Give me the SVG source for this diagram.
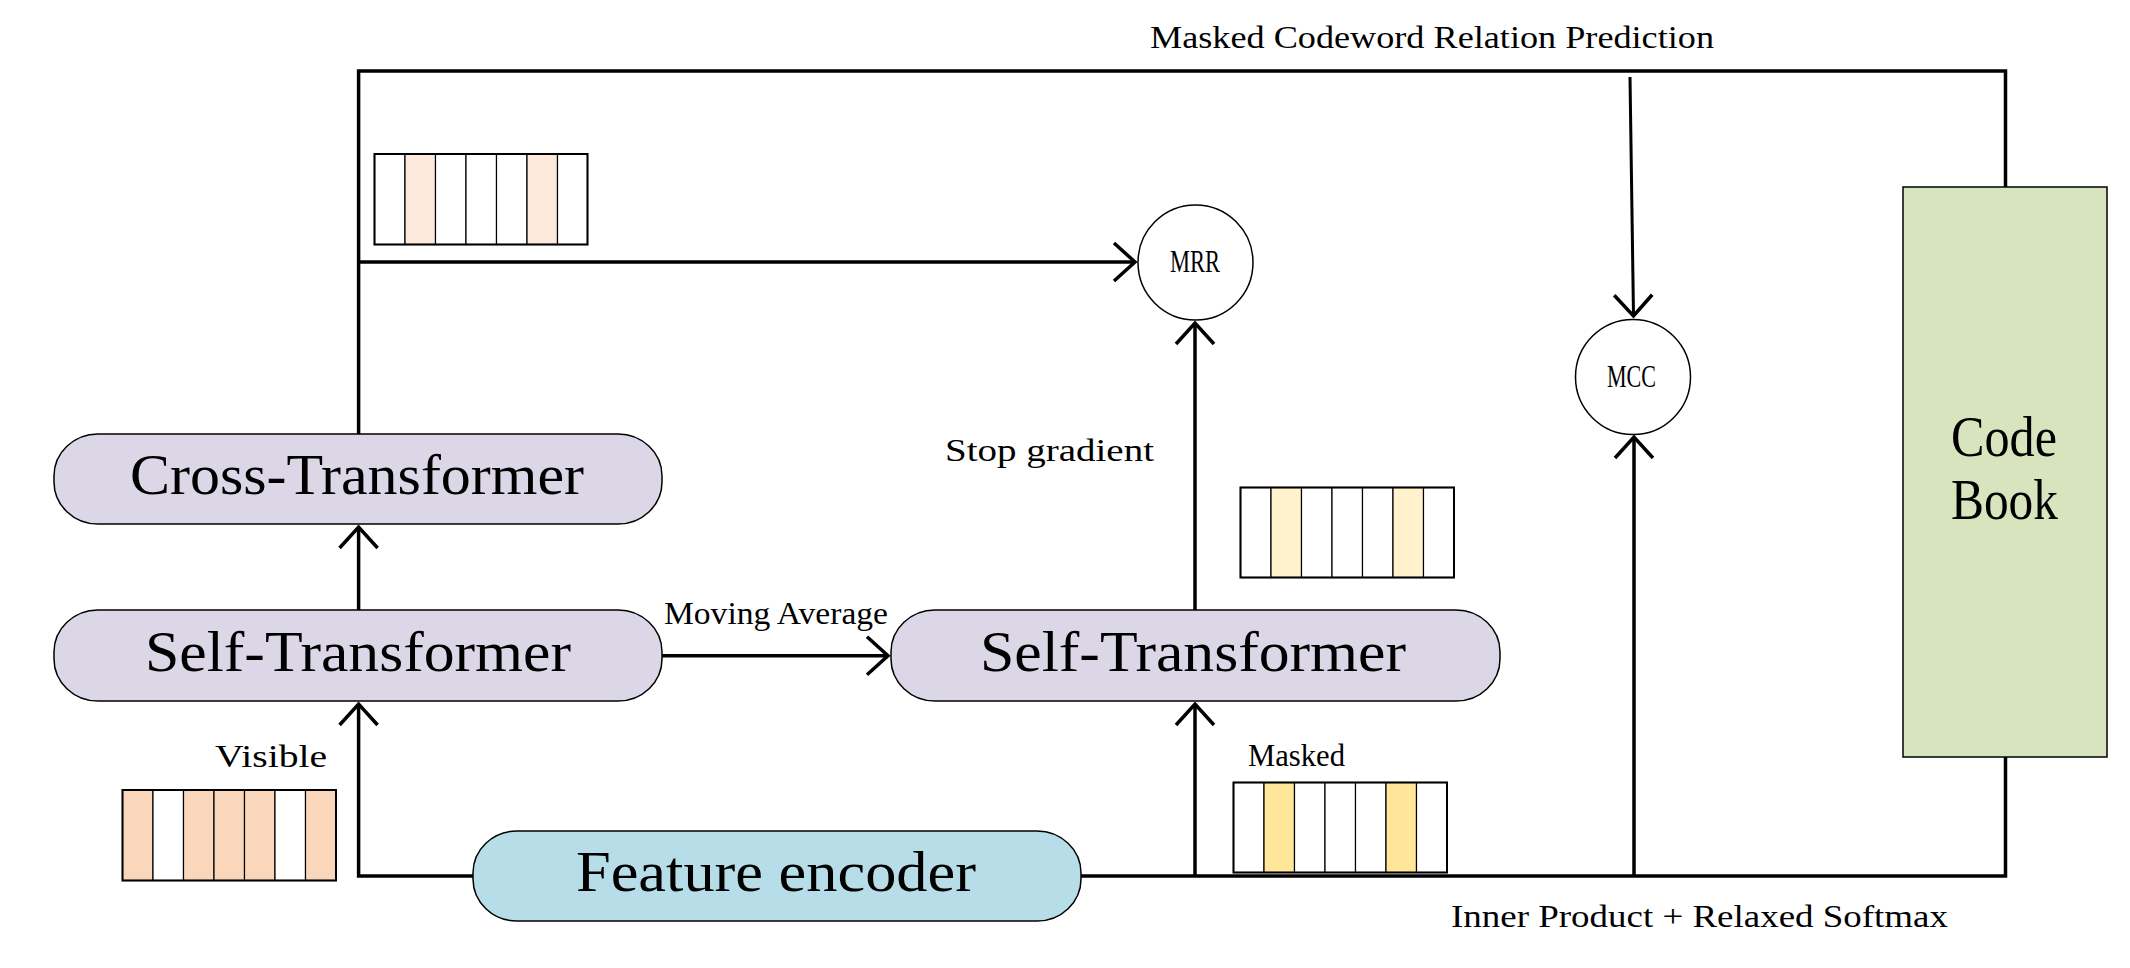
<svg xmlns="http://www.w3.org/2000/svg" width="2130" height="968" viewBox="0 0 2130 968">
<style>
  .txt { font-family: "Liberation Serif", "DejaVu Serif", serif; fill: #000; }
  .sm { font-size: 31px; }
  .lg { font-size: 56px; }
  .conn { fill: none; stroke: #000; stroke-width: 3.5; }
  .thin { fill: none; stroke: #000; stroke-width: 3; }
  .node { stroke: #000; stroke-width: 1.5; }
  .purple { fill: #dcd7e6; }
  .blue { fill: #b7dee8; }
  .green { fill: #d7e4bd; }
  .cell { stroke: #000; stroke-width: 1.2; fill: #fff; }
  .frame { fill: none; stroke: #000; stroke-width: 2; }
  .c1 { fill: #fce9dc; }
  .c2 { fill: #fff2cc; }
  .c3 { fill: #fad7bb; }
  .c4 { fill: #ffe699; }
</style>
<defs>
  <marker id="arr" markerUnits="userSpaceOnUse" viewBox="-26 -24 30 48" refX="0" refY="0" markerWidth="30" markerHeight="48" orient="auto">
    <path d="M-21,-19 L0,0 L-21,19" fill="none" stroke="#000" stroke-width="3.5" stroke-linejoin="miter"/>
  </marker>
</defs>
<rect width="2130" height="968" fill="#fff"/>

<g id="connectors">
  <path class="conn" d="M473,876 H358.6 V704" marker-end="url(#arr)"/>
  <path class="conn" d="M358.6,610 V527" marker-end="url(#arr)"/>
  <path class="conn" d="M358.6,434 V71 H2005.5 V187"/>
  <path class="conn" d="M358.6,262 H1135" marker-end="url(#arr)"/>
  <path class="conn" d="M662,655.7 H888" marker-end="url(#arr)"/>
  <path class="conn" d="M1081,876 H2005.5 V757"/>
  <path class="conn" d="M1195,876 V704" marker-end="url(#arr)"/>
  <path class="conn" d="M1195,610 V323" marker-end="url(#arr)"/>
  <path class="conn" d="M1634,876 V437" marker-end="url(#arr)"/>
  <path class="thin" d="M1630,77 L1633.5,316" marker-end="url(#arr)"/>
</g>

<g id="cross-transformer">
  <rect class="node purple" x="54" y="434" width="608" height="90" rx="44" ry="42"/>
  <text class="txt lg" x="130" y="494" textLength="454" lengthAdjust="spacingAndGlyphs">Cross-Transformer</text>
</g>

<g id="self-transformer-left">
  <rect class="node purple" x="54" y="610" width="608" height="91" rx="44" ry="42"/>
  <text class="txt lg" x="145" y="671" textLength="426" lengthAdjust="spacingAndGlyphs">Self-Transformer</text>
</g>

<g id="self-transformer-right">
  <rect class="node purple" x="891" y="610" width="609" height="91" rx="44" ry="42"/>
  <text class="txt lg" x="980" y="671" textLength="426" lengthAdjust="spacingAndGlyphs">Self-Transformer</text>
</g>

<g id="feature-encoder">
  <rect class="node blue" x="473" y="831" width="608" height="90" rx="44" ry="42"/>
  <text class="txt lg" x="576" y="891" textLength="400" lengthAdjust="spacingAndGlyphs">Feature encoder</text>
</g>

<g id="mrr">
  <circle class="node" cx="1195.5" cy="262.5" r="57.5" fill="#fff" stroke-width="1.3"/>
  <text class="txt sm" x="1170" y="272" textLength="50" lengthAdjust="spacingAndGlyphs">MRR</text>
</g>

<g id="mcc">
  <circle class="node" cx="1633" cy="377" r="57.5" fill="#fff" stroke-width="1.3"/>
  <text class="txt sm" x="1607" y="387" textLength="49" lengthAdjust="spacingAndGlyphs">MCC</text>
</g>

<g id="codebook">
  <rect class="node green" x="1903" y="187" width="204" height="570"/>
  <text class="txt lg" x="1951" y="456" textLength="106" lengthAdjust="spacingAndGlyphs">Code</text>
  <text class="txt lg" x="1951" y="519" textLength="107" lengthAdjust="spacingAndGlyphs">Book</text>
</g>

<g id="tokens-cross">
  <rect class="cell" x="374.5" y="154" width="30.5" height="90.5"/>
  <rect class="cell c1" x="405" y="154" width="30.5" height="90.5"/>
  <rect class="cell" x="435.5" y="154" width="30.5" height="90.5"/>
  <rect class="cell" x="466" y="154" width="30.5" height="90.5"/>
  <rect class="cell" x="496.5" y="154" width="30.5" height="90.5"/>
  <rect class="cell c1" x="527" y="154" width="30.5" height="90.5"/>
  <rect class="cell" x="557.5" y="154" width="30" height="90.5"/>
  <rect class="frame" x="374.5" y="154" width="213" height="90.5"/>
</g>

<g id="tokens-target">
  <rect class="cell" x="1240.5" y="487.5" width="30.5" height="90"/>
  <rect class="cell c2" x="1271" y="487.5" width="30.5" height="90"/>
  <rect class="cell" x="1301.5" y="487.5" width="30.5" height="90"/>
  <rect class="cell" x="1332" y="487.5" width="30.5" height="90"/>
  <rect class="cell" x="1362.5" y="487.5" width="30.5" height="90"/>
  <rect class="cell c2" x="1393" y="487.5" width="30.5" height="90"/>
  <rect class="cell" x="1423.5" y="487.5" width="30.5" height="90"/>
  <rect class="frame" x="1240.5" y="487.5" width="213.5" height="90"/>
</g>

<g id="tokens-visible">
  <rect class="cell c3" x="122.5" y="790" width="30.5" height="90.5"/>
  <rect class="cell" x="153" y="790" width="30.5" height="90.5"/>
  <rect class="cell c3" x="183.5" y="790" width="30.5" height="90.5"/>
  <rect class="cell c3" x="214" y="790" width="30.5" height="90.5"/>
  <rect class="cell c3" x="244.5" y="790" width="30.5" height="90.5"/>
  <rect class="cell" x="275" y="790" width="30.5" height="90.5"/>
  <rect class="cell c3" x="305.5" y="790" width="30.5" height="90.5"/>
  <rect class="frame" x="122.5" y="790" width="213.5" height="90.5"/>
</g>

<g id="tokens-masked">
  <rect class="cell" x="1233.5" y="782.5" width="30.5" height="90"/>
  <rect class="cell c4" x="1264" y="782.5" width="30.5" height="90"/>
  <rect class="cell" x="1294.5" y="782.5" width="30.5" height="90"/>
  <rect class="cell" x="1325" y="782.5" width="30.5" height="90"/>
  <rect class="cell" x="1355.5" y="782.5" width="30.5" height="90"/>
  <rect class="cell c4" x="1386" y="782.5" width="30.5" height="90"/>
  <rect class="cell" x="1416.5" y="782.5" width="30.5" height="90"/>
  <rect class="frame" x="1233.5" y="782.5" width="213.5" height="90"/>
</g>

<g id="labels">
  <text class="txt sm" x="1150" y="48" textLength="564" lengthAdjust="spacingAndGlyphs">Masked Codeword Relation Prediction</text>
  <text class="txt sm" x="945" y="461" textLength="209" lengthAdjust="spacingAndGlyphs">Stop gradient</text>
  <text class="txt sm" x="664" y="624" textLength="224" lengthAdjust="spacingAndGlyphs">Moving Average</text>
  <text class="txt sm" x="215" y="767" textLength="112" lengthAdjust="spacingAndGlyphs">Visible</text>
  <text class="txt sm" x="1248" y="766" textLength="97" lengthAdjust="spacingAndGlyphs">Masked</text>
  <text class="txt sm" x="1451" y="927" textLength="497" lengthAdjust="spacingAndGlyphs">Inner Product + Relaxed Softmax</text>
</g>
</svg>
